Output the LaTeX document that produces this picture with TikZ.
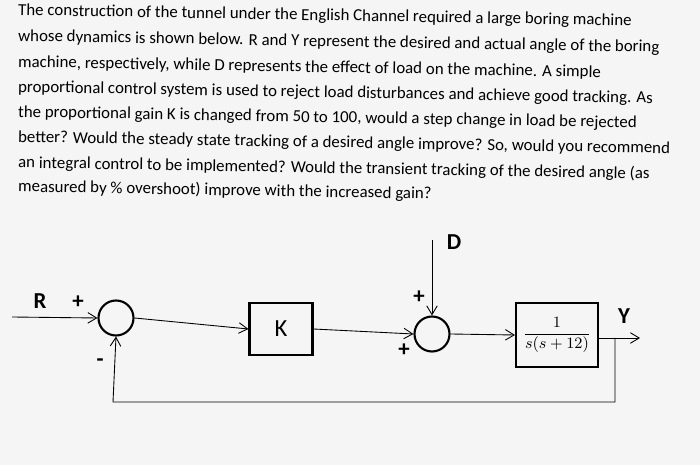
\documentclass[tikz,border=0pt]{standalone}
\usepackage{fontspec}
\setmainfont{Carlito}
\usetikzlibrary{arrows.meta}
\begin{document}
\begin{tikzpicture}[x=0.02cm,y=-0.02cm,
  txt/.style={anchor=north west,inner sep=0pt,rotate=-1.0,font=\fontsize{9.6}{11}\selectfont},
  blk/.style={draw,line width=1.2pt,minimum width=63*0.02cm,minimum height=52*0.02cm},
  sumc/.style={draw,circle,line width=1.2pt,minimum size=35*0.02cm,inner sep=0pt},
  lab/.style={font=\bfseries\fontsize{13}{13}\selectfont,inner sep=0pt},
  arr/.style={-{Straight Barb[length=5pt,width=6pt]},line width=0.5pt}]
\useasboundingbox (0,0) rectangle (700,465);
\fill[gray!8] (0,0) rectangle (700,465);
\node[txt] (l1) at (18,3) {The construction of the tunnel under the English Channel required a large boring machine};
\node[txt] (l2) at (18,29) {whose dynamics is shown below. R and Y represent the desired and actual angle of the boring};
\node[txt] (l3) at (18,55) {machine, respectively, while D represents the effect of load on the machine. A simple};
\node[txt] (l4) at (18,80) {proportional control system is used to reject load disturbances and achieve good tracking. As};
\node[txt] (l5) at (18,105) {the proportional gain K is changed from 50 to 100, would a step change in load be rejected};
\node[txt] (l6) at (18,130) {better? Would the steady state tracking of a desired angle improve? So, would you recommend};
\node[txt] (l7) at (18,155) {an integral control to be implemented? Would the transient tracking of the desired angle (as};
\node[txt] (l8) at (18,179) {measured by \% overshoot) improve with the increased gain?};
% diagram
\node[sumc] (s1) at (116,318) {};
\node[blk] (k) at (281,329) {\fontsize{14}{14}\selectfont K};
\node[sumc] (s2) at (432,334) {};
\node[blk,minimum width=82*0.02cm,minimum height=64*0.02cm] (g) at (557,335)
  {\fontsize{9.5}{10}\selectfont$\displaystyle\frac{1}{s(s+12)}$};
\coordinate (in) at (12,317);
\coordinate (dtop) at (432,240);
\coordinate (out) at (640,338);
\coordinate (br) at (615,338);
\draw[arr] (in) -- (s1.west);
\draw[arr] (s1.east) -- (k.west);
\draw[arr] (k.east) -- (s2.west);
\draw[arr] (dtop) -- (s2.north);
\draw[arr] (s2.east) -- (g.west);
\draw[arr] (g.east |- out) -- (out);
\draw[arr] (br) -- (615,402) -- (113,402) -- (s1.south);
\node[lab] (R) at (40,301) {R};
\node[lab] (p1) at (78,302) {+};
\node[lab] (m1) at (100,363) {-};
\node[lab] (D) at (454,242) {D};
\node[lab] (p2) at (419,297) {+};
\node[lab] (p3) at (404,350) {+};
\node[lab] (Y) at (624,316) {Y};
\end{tikzpicture}
\end{document}
